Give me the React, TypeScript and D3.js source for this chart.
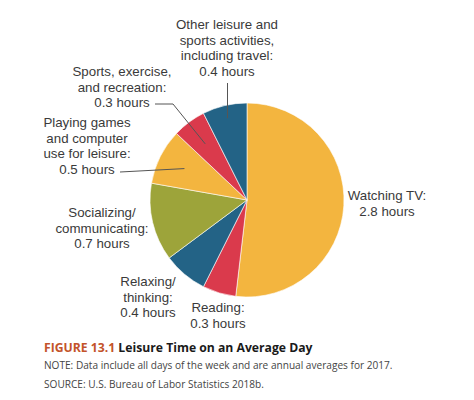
import React from "react";
import * as d3 from "d3";

const categories = [
  "Watching TV",
  "Reading",
  "Relaxing/thinking",
  "Socializing/communicating",
  "Playing games and computer use for leisure",
  "Sports, exercise, and recreation",
  "Other leisure and sports activities, including travel",
];
const hours = [2.8, 0.3, 0.4, 0.7, 0.5, 0.3, 0.4];
const sliceColors = ["#F3B53F", "#DA3A4C", "#236386", "#9DA43A", "#F3B53F", "#DA3A4C", "#236386"];

const labelLines = [
  ["Watching TV:", "2.8 hours"],
  ["Reading:", "0.3 hours"],
  ["Relaxing/", "thinking:", "0.4 hours"],
  ["Socializing/", "communicating:", "0.7 hours"],
  ["Playing games", "and computer", "use for leisure:", "0.5 hours"],
  ["Sports, exercise,", "and recreation:", "0.3 hours"],
  ["Other leisure and", "sports activities,", "including travel:", "0.4 hours"],
];
// label anchor (center x, first baseline y)
const labelPos: [number, number][] = [
  [387, 200],
  [218, 312],
  [148, 286],
  [102, 217],
  [87, 127],
  [122, 76],
  [227, 29],
];

const W = 474;
const H = 400;
const cx = 247;
const cy = 200;
const R = 97;

export default function App() {
  const pie = d3
    .pie<number>()
    .sort(null)
    .value((d) => d)
    .startAngle(0)
    .endAngle(2 * Math.PI);
  const arcs = pie(hours);
  const arc = d3.arc<d3.PieArcDatum<number>>().innerRadius(0).outerRadius(R);

  const pt = (a: d3.PieArcDatum<number>, r: number): [number, number] => {
    const ang = (a.startAngle + a.endAngle) / 2;
    return [cx + r * Math.sin(ang), cy - r * Math.cos(ang)];
  };
  const other = pt(arcs[6], 84);
  const sports = pt(arcs[5], 70);
  const games = pt(arcs[4], 70);

  const lineH = 15.5;
  const font = "'Liberation Sans', Arial, Helvetica, sans-serif";
  const textFont = "'Open Sans', sans-serif";

  return (
    <svg width={W} height={H} style={{ position: "absolute", left: 0, top: 0, background: "#fff" }}>
      <g transform={`translate(${cx},${cy})`}>
        {arcs.map((a, i) => (
          <path key={categories[i]} d={arc(a) || ""} fill={sliceColors[i]} stroke="#fff" strokeWidth={0.6} />
        ))}
      </g>
      <g stroke="#555" strokeWidth={1} fill="none">
        <path d={`M${227.5},83 L${227.5},${other[1]}`} />
        <path d={`M155,104 L173,104 L${sports[0]},${sports[1]}`} />
        <path d={`M120,172 L${games[0]},${games[1]}`} />
      </g>
      <g fontFamily={font} fontSize={13.3} fill="#3a3a3a" textAnchor="middle">
        {labelLines.map((lines, i) => (
          <text key={i} x={labelPos[i][0]} y={labelPos[i][1]}>
            {lines.map((l, j) => (
              <tspan key={j} x={labelPos[i][0]} y={labelPos[i][1] + j * lineH}>
                {l}
              </tspan>
            ))}
          </text>
        ))}
      </g>
      <text x={44} y={352} fontFamily={textFont} fontWeight={700} fontSize={12.2}>
        <tspan fill="#C3532A">FIGURE 13.1 </tspan>
        <tspan fill="#1a1a1a">Leisure Time on an Average Day</tspan>
      </text>
      <text x={44} y={369} fontFamily={textFont} fontSize={10.1} fill="#444">
        NOTE: Data include all days of the week and are annual averages for 2017.
      </text>
      <text x={44} y={388} fontFamily={textFont} fontSize={10.1} fill="#444">
        SOURCE: U.S. Bureau of Labor Statistics 2018b.
      </text>
    </svg>
  );
}
